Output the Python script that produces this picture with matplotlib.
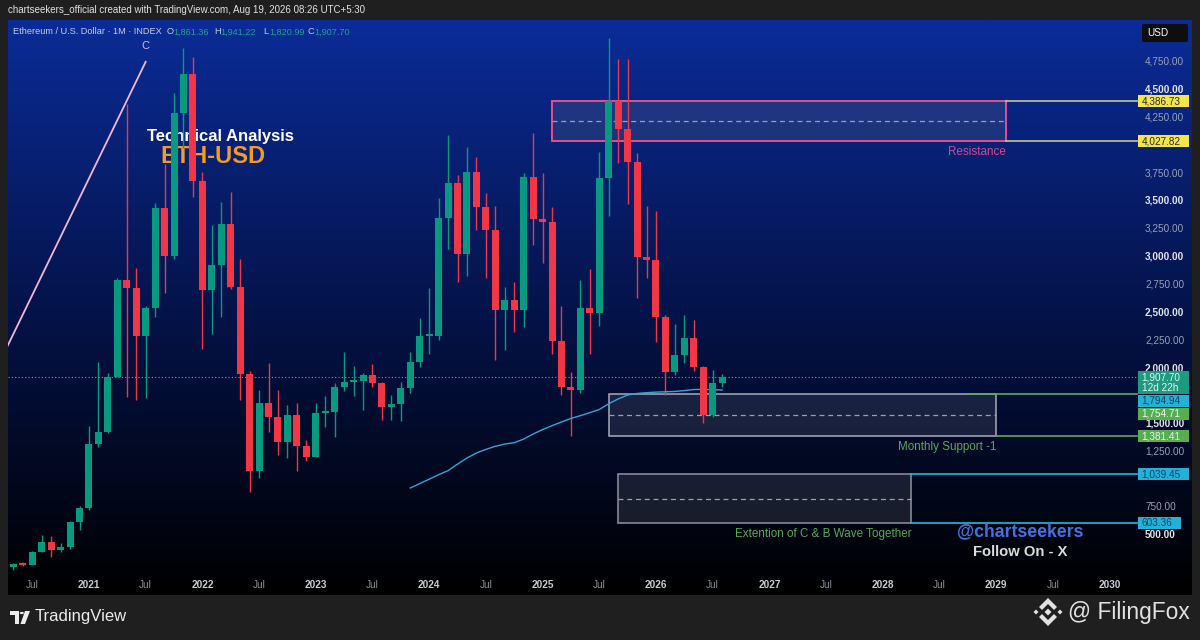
import numpy as np
import pandas as pd
import matplotlib
matplotlib.use('Agg')
import matplotlib.pyplot as plt
from matplotlib.colors import LinearSegmentedColormap
from matplotlib.patches import Rectangle, Polygon, Circle, FancyBboxPatch

plt.rcParams['font.family'] = ['Liberation Sans', 'DejaVu Sans']

# ---- data: ETH/USD monthly candles, May 2020 .. Aug 2026 ----
months = pd.period_range('2020-05', '2026-08', freq='M')
opens = [207, 231, 225, 345, 434, 360, 386, 613,
         733, 1310, 1418, 1914, 2780, 2708, 2280, 2528, 3425, 2997, 4283, 4628,
         3673, 2692, 2917, 3282, 2722, 1938, 1071, 1675, 1555, 1325, 1571, 1295,
         1196, 1586, 1600, 1819, 1864, 1873, 1934, 1855, 1645, 1667, 1815, 2049,
         2280, 2283, 3336, 3650, 3013, 3754, 3434, 3231, 2513, 2603, 2513, 3704,
         3330, 3300, 2237, 1824, 1795, 2528, 2483, 3695, 4388, 4137, 3844, 2986,
         2961, 2447, 1959, 2109, 2259, 1998, 1571, 1861.36]
highs = [247, 253, 350, 490, 488, 420, 622, 755,
         1475, 2045, 1945, 2800, 4360, 2890, 2550, 3470, 3820, 4460, 4861, 4786,
         3754, 3276, 3485, 3569, 2970, 1970, 1795, 2040, 1795, 1660, 1675, 1346,
         1675, 1741, 1855, 2139, 2010, 1950, 2025, 1870, 1750, 1865, 2135, 2444,
         2713, 3515, 4085, 3725, 3978, 3889, 3560, 3450, 2722, 2767, 3740, 4100,
         3740, 3440, 2549, 1959, 2782, 2878, 3933, 4951, 4763, 4763, 3919, 3446,
         3404, 2470, 2387, 2468, 2423, 2010, 1974, 1941.22]
lows = [182, 216, 222, 345, 299, 337, 370, 535,
        715, 1280, 1410, 1910, 1735, 1705, 1720, 2450, 2665, 2970, 3970, 3530,
        2160, 2300, 2450, 2700, 1705, 882, 1005, 1420, 1212, 1182, 1071, 1160,
        1190, 1466, 1370, 1785, 1741, 1615, 1820, 1526, 1530, 1521, 1770, 2000,
        2118, 2240, 3060, 2767, 2818, 3231, 2803, 2064, 2154, 2318, 2363, 3096,
        2932, 2120, 1750, 1385, 1765, 2118, 2369, 3356, 3829, 3464, 2618, 2797,
        2228, 1750, 1929, 2034, 1968, 1501, 1555, 1820.99]
closes = [231, 225, 345, 434, 360, 386, 613, 733,
          1310, 1418, 1914, 2780, 2708, 2280, 2528, 3425, 2997, 4283, 4628, 3673,
          2692, 2917, 3282, 2722, 1938, 1071, 1675, 1555, 1325, 1571, 1295, 1196,
          1586, 1600, 1819, 1864, 1873, 1934, 1855, 1645, 1667, 1815, 2049, 2280,
          2283, 3336, 3650, 3013, 3754, 3434, 3231, 2513, 2603, 2513, 3704, 3330,
          3300, 2237, 1824, 1795, 2528, 2483, 3695, 4388, 4137, 3844, 2986, 2961,
          2447, 1959, 2109, 2259, 1998, 1571, 1861, 1907.70]

# moving average (blue line) from Nov 2023
ma_start = '2023-11'
ma_vals = [916, 955, 995, 1035, 1072, 1130, 1185, 1230, 1262, 1290, 1310, 1322,
           1355, 1400, 1440, 1475, 1508, 1540, 1565, 1592, 1620, 1672, 1715, 1750,
           1764, 1771, 1776, 1779, 1782, 1790, 1799, 1801, 1798, 1794.94]

# wave line ending at "C"
wave_x = [-9.0, 6.0]
wave_y = [2124, 4740]

# zones (low, high, start month, end month)
res_zone = (4027.82, 4386.73, '2025-02', '2029-02')
sup_zone = (1381.41, 1754.71, '2025-08', '2029-01')
ext_zone = (603.36, 1039.45, '2025-09', '2028-04')

# ticks that are visible (others sit under the price tags)
yticks = [500, 750, 1250, 1500, 2000, 2250, 2500, 2750, 3000,
          3250, 3500, 3750, 4250, 4500, 4750]
xtick_pos = list(range(-6, 109, 6))
xtick_lab = ['Jul' if i % 12 else str(2021 + i // 12) for i in xtick_pos]

UP = '#089981'
DN = '#f23645'
W, H = 1200, 640


def midx(p):
    p = pd.Period(p, 'M')
    return (p.year - 2021) * 12 + p.month - 1


def fx(px):
    return px / W


def fy(py):
    return 1 - py / H


fig = plt.figure(figsize=(12, 6.4), dpi=100, facecolor='#1f1f1f')

# gradient background
bg = fig.add_axes([fx(8), fy(595), (1192 - 8) / W, (595 - 20) / H])
cmap = LinearSegmentedColormap.from_list('tvbg', ['#000000', '#04134a', '#0b2c98'])
bg.imshow(np.linspace(1, 0, 256)[:, None], aspect='auto', cmap=cmap,
          extent=(0, 1, 0, 1), vmin=0, vmax=1)
bg.axis('off')

ax = fig.add_axes([fx(8), fy(572), (1137 - 8) / W, (572 - 20) / H])
ax.patch.set_alpha(0)
for s in ax.spines.values():
    s.set_visible(False)
ax.set_xlim(-8.571, 110.9)
ax.set_ylim(162, 5115)

x = np.array([midx(m) for m in months])
o = np.array(opens)
hi = np.array(highs)
lo = np.array(lows)
c = np.array(closes)
col = np.where(c >= o, UP, DN)

ax.vlines(x, lo, hi, colors=col, lw=1, zorder=3)
ax.bar(x, np.maximum(np.abs(c - o), 22), bottom=np.minimum(o, c), width=0.74,
       color=col, linewidth=0, zorder=4)

# moving average
ma_x = np.arange(len(ma_vals)) + midx(ma_start)
ax.plot(ma_x, ma_vals, color='#3aa3d4', lw=1, zorder=3)

# wave line + label
ax.plot(wave_x, wave_y, color='#f2b8d4', lw=1.3, zorder=3, clip_on=True)
ax.text(wave_x[1], wave_y[1] + 140, 'C', color='#c8b8f2', fontsize=8,
        ha='center', va='center')

# last price dotted line
ax.axhline(closes[-1], color='#8b8f9c', lw=0.8, ls=(0, (1, 2)), zorder=2)

# titles hidden behind candles
ax.text(13.9, 4074, 'Technical Analysis', color='white', fontsize=12,
        fontweight='bold', ha='center', va='center', zorder=2)
ax.text(13.1, 3886, 'ETH-USD', color='#f59a23', fontsize=17,
        fontweight='bold', ha='center', va='center', zorder=2)


def zone(z, edge, elw, lab, labcol, rays, ray_col, ray_from=None):
    y0, y1, a, b = z
    x0, x1 = midx(a), midx(b)
    ax.add_patch(Rectangle((x0, y0), x1 - x0, y1 - y0, facecolor=(0.47, 0.48, 0.55, 0.2),
                           edgecolor=edge, lw=elw, zorder=2))
    ax.plot([x0, x1], [(y0 + y1) / 2] * 2, color='#9aa0ad', lw=0.9,
            ls=(0, (4, 3)), zorder=2)
    for i, yv in enumerate(rays):
        start = x1 if ray_from is None or ray_from[i] is None else ray_from[i]
        ax.plot([start, 110.9], [yv, yv], color=ray_col, lw=1.2, zorder=2,
                clip_on=False)
    ax.annotate(lab, xy=(x1, y0), xytext=(0, -11), textcoords='offset pixels',
                ha='right', va='center', color=labcol, fontsize=8.4)


zone(res_zone, '#e2508f', 1.4, 'Resistance', '#d8478c',
     [res_zone[1], res_zone[0]], '#c3c79a')
zone(sup_zone, '#a9acb6', 1.1, 'Monthly Support -1', '#58a85a',
     [sup_zone[1], sup_zone[0]], '#5fa860', ray_from=[93, None])
zone(ext_zone, '#868a96', 1.2, 'Extention of C & B Wave Together', '#58a85a',
     [ext_zone[1], ext_zone[0]], '#2cb6dc')

ax.text(98.5, 520, '@chartseekers', color='#4274de', fontsize=12.7,
        fontweight='bold', ha='center', va='center')
ax.text(98.5, 345, 'Follow On - X', color='#dcdcdc', fontsize=10.6,
        fontweight='bold', ha='center', va='center')

# axes ticks
ax.set_xticks(xtick_pos, xtick_lab)
ax.tick_params(axis='x', length=0, pad=5.5, labelsize=7.2)
for t in ax.get_xticklabels():
    if t.get_text() == 'Jul':
        t.set_color('#8d9099')
    else:
        t.set_color('#c9ccd4')
        t.set_fontweight('bold')

ax.yaxis.tick_right()
ax.set_yticks(yticks, [f'{v:,.2f}' for v in yticks])
ax.tick_params(axis='y', length=0, pad=5.8, labelsize=7.2)
for v, t in zip(yticks, ax.get_yticklabels()):
    if v % 500 == 0:
        t.set_color('#e2e5ec')
        t.set_fontweight('bold')
    else:
        t.set_color('#9aa1b6')


def tag(price, lines, fc, tc, shift=0, w=51):
    yd = ax.transData.transform((0, price))[1] - shift
    hgt = 12 + 11 * (len(lines) - 1)
    fig.add_artist(Rectangle((fx(1138), (yd + 6 - hgt) / H), w / W, hgt / H,
                             transform=fig.transFigure, fc=fc, ec='none', zorder=5))
    for i, t in enumerate(lines):
        fig.text(fx(1141.5), (yd - 11 * i) / H, t, color=tc, fontsize=7.2,
                 ha='left', va='center', zorder=6)


tag(res_zone[1], [f'{res_zone[1]:,.2f}'], '#f3e64c', '#2a2a2a')
tag(res_zone[0], [f'{res_zone[0]:,.2f}'], '#f3e64c', '#2a2a2a')
tag(closes[-1], [f'{closes[-1]:,.2f}', '12d 22h'], '#1d9a80', '#e8f5f1')
tag(ma_vals[-1], [f'{ma_vals[-1]:,.2f}'], '#22b1d8', '#0f4460', shift=10.8)
tag(sup_zone[1], [f'{sup_zone[1]:,.2f}'], '#56ae50', '#eef7ec', shift=19.2)
tag(sup_zone[0], [f'{sup_zone[0]:,.2f}'], '#56ae50', '#eef7ec')
tag(ext_zone[1], [f'{ext_zone[1]:,.2f}'], '#22b1d8', '#0f4460')
tag(ext_zone[0], [f'{ext_zone[0]:,.2f}'], '#22b1d8', '#0f4460', w=43)

# USD box
fig.add_artist(FancyBboxPatch((fx(1142), fy(42)), 46 / W, 18 / H,
                              boxstyle='round,pad=0,rounding_size=0.002',
                              transform=fig.transFigure, fc='#0e0e0e', ec='none', zorder=5))
fig.text(fx(1147), fy(33), 'USD', color='white', fontsize=7.2, va='center', zorder=6)

# header
fig.text(fx(8), fy(10), 'chartseekers_official created with TradingView.com, '
         'Aug 19, 2026 08:26 UTC+5:30', color='#e2e2e2', fontsize=7, va='center')
fig.text(fx(13), fy(32), 'Ethereum / U.S. Dollar \u00b7 1M \u00b7 INDEX',
         color='#c9cddb', fontsize=6.6, va='center')
ohlc = [('O', opens[-1], 167), ('H', highs[-1], 214), ('L', lows[-1], 263),
        ('C', closes[-1], 308)]
for k, v, px in ohlc:
    fig.text(fx(px), fy(32), k, color='#c9cddb', fontsize=6.6, va='center')
    fig.text(fx(px + 6), fy(32), f'{v:,.2f}', color='#1fa38c', fontsize=6.6,
             va='center')

# footer: TradingView logo
logo_col = '#ececec'
fig.add_artist(Polygon([(fx(10), fy(611)), (fx(19), fy(611)), (fx(19), fy(624)),
                        (fx(15), fy(624)), (fx(15), fy(615)), (fx(10), fy(615))],
                       closed=True, transform=fig.transFigure, fc=logo_col, ec='none'))
fig.add_artist(Circle((fx(21.8), fy(613)), 2.1 / W, transform=fig.transFigure,
                      fc=logo_col, ec='none'))
fig.add_artist(Polygon([(fx(25), fy(611)), (fx(30), fy(611)), (fx(25), fy(624)),
                        (fx(20.5), fy(624))], closed=True,
                       transform=fig.transFigure, fc=logo_col, ec='none'))
fig.text(fx(35), fy(617), 'TradingView', color='#ececec', fontsize=12, va='center')

# footer: FilingFox watermark
cx, cy = 1048, 612
shapes = [
    [(0, -14), (9, -5), (6, -2), (0, -8), (-6, -2), (-9, -5)],
    [(0, 14), (9, 5), (6, 2), (0, 8), (-6, 2), (-9, 5)],
    [(0, -3.5), (3.5, 0), (0, 3.5), (-3.5, 0)],
    [(-12, -2.5), (-9.5, 0), (-12, 2.5), (-14.5, 0)],
    [(12, -2.5), (14.5, 0), (12, 2.5), (9.5, 0)],
]
for s in shapes:
    fig.add_artist(Polygon([(fx(cx + dx), fy(cy + dy)) for dx, dy in s], closed=True,
                           transform=fig.transFigure, fc='#e2e2e2', ec='none'))
fig.text(fx(1068), fy(613), '@ FilingFox', color='#e2e2e2', fontsize=16.4, va='center')

fig.savefig('out.png', dpi=100, facecolor=fig.get_facecolor())
